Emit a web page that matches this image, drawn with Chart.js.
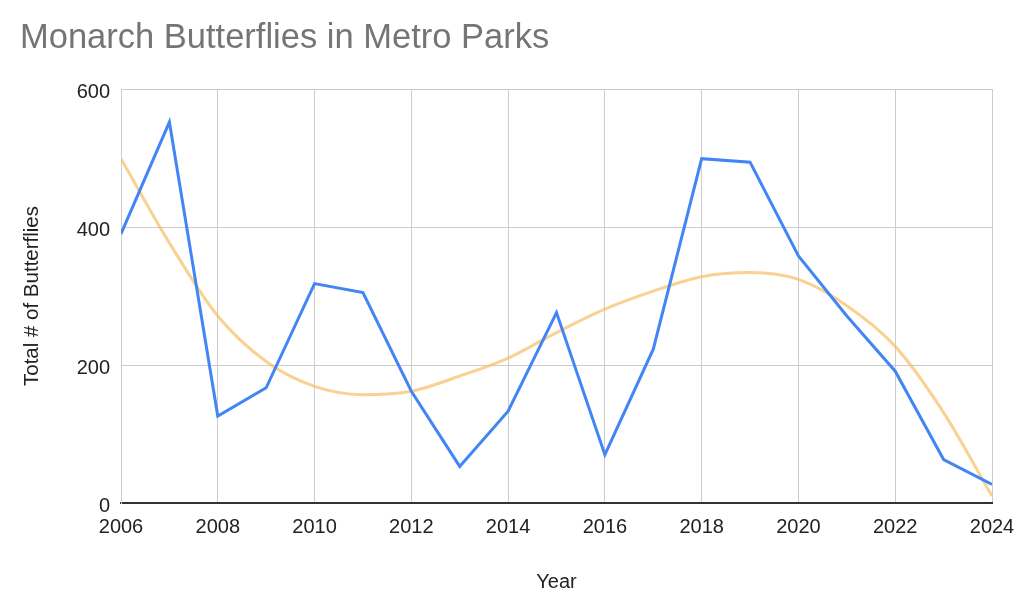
<!DOCTYPE html>
<html>
<head>
<meta charset="utf-8">
<script src="https://cdn.jsdelivr.net/npm/chart.js@4/dist/chart.umd.min.js"></script>
<style>
  html, body { margin: 0; padding: 0; background: #fff; }
  #wrap { width: 1024px; height: 606px; }
</style>
</head>
<body>
<div id="wrap"><canvas id="chart" width="1024" height="606"></canvas></div>
<script>
const years = [2006, 2007, 2008, 2009, 2010, 2011, 2012, 2013, 2014, 2015,
  2016, 2017, 2018, 2019, 2020, 2021, 2022, 2023, 2024];
const butterflies = [390, 552, 126, 167, 318, 305, 162, 53, 133, 276,
  70, 223, 499, 494, 358, 271, 191, 63, 27];
// trendline, one value per year
const trend = [499, 377, 271, 205, 169, 157, 162, 184, 210, 247,
  281, 307, 328, 334, 324, 286, 227, 131, 10];

const font = 'Arial, "Liberation Sans", sans-serif';

new Chart(document.getElementById('chart'), {
  type: 'line',
  data: {
    datasets: [{
      label: 'Total # of Butterflies',
      data: years.map((y, i) => ({ x: y, y: butterflies[i] })),
      borderColor: '#4285F4',
      borderWidth: 3,
      pointRadius: 0,
      tension: 0,
      order: 1
    }, {
      label: 'Trendline',
      data: years.map((y, i) => ({ x: y, y: trend[i] })),
      borderColor: 'rgba(248, 190, 100, 0.7)',
      borderWidth: 3,
      pointRadius: 0,
      cubicInterpolationMode: 'monotone',
      order: 2
    }]
  },
  options: {
    responsive: false,
    animation: false,
    layout: { padding: { left: 20, right: 32, top: 0, bottom: 0 } },
    plugins: {
      legend: { display: false },
      tooltip: { enabled: false },
      title: {
        display: true,
        text: 'Monarch Butterflies in Metro Parks',
        align: 'start',
        color: '#757575',
        font: { family: font, size: 34.5, weight: 'normal' },
        padding: { top: 18, bottom: 29.6 }
      }
    },
    scales: {
      x: {
        type: 'linear',
        min: 2006,
        max: 2024,
        afterFit: s => { s.height = 103; s.paddingRight = 0; s.paddingLeft = 0; },
        ticks: {
          stepSize: 2,
          color: '#222',
          padding: 12,
          font: { family: font, size: 20 },
          callback: v => String(v)
        },
        grid: { color: '#cccccc', lineWidth: 1, drawTicks: false },
        border: { color: '#333333', width: 2 },
        title: {
          display: true,
          text: 'Year',
          color: '#222',
          font: { family: font, size: 20 },
          padding: { top: 0, bottom: 12 }
        }
      },
      y: {
        min: 0,
        max: 600,
        afterFit: s => { s.width = 101; },
        ticks: {
          stepSize: 200,
          color: '#222',
          padding: 11,
          labelOffset: 3,
          font: { family: font, size: 20 }
        },
        grid: { color: '#cccccc', lineWidth: 1, drawTicks: false },
        border: { color: '#cccccc', width: 1 },
        title: {
          display: true,
          text: 'Total # of Butterflies',
          color: '#222',
          font: { family: font, size: 20.5 },
          padding: { top: 0, bottom: 0 }
        }
      }
    }
  }
});
</script>
</body>
</html>
